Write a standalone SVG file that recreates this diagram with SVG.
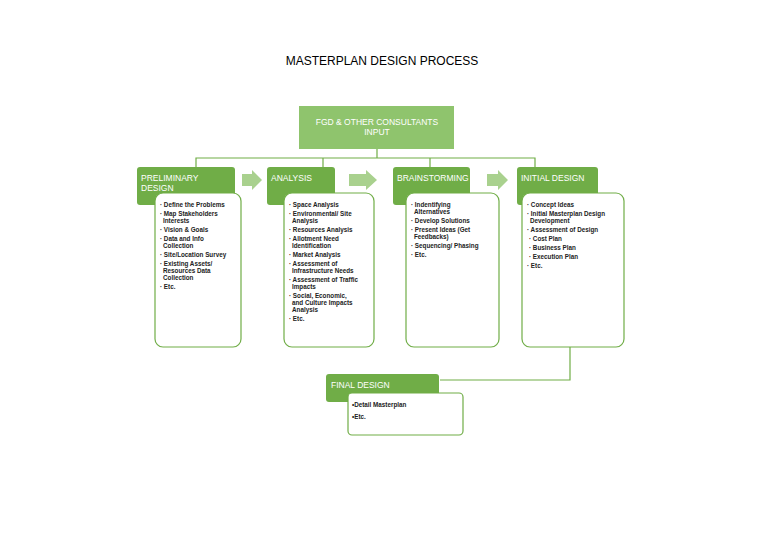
<svg xmlns="http://www.w3.org/2000/svg" width="768" height="544" viewBox="0 0 768 544">
<style>
.hd{fill:#70ad47}
.bx{fill:#fff;stroke:#70ad47;stroke-width:1.2}
.ht{font-family:"Liberation Sans",Arial,sans-serif;font-size:8.5px;fill:#fff}
.it{font-family:"Liberation Sans",Arial,sans-serif;font-size:6.3px;font-weight:bold;fill:#222}
.ar{fill:#a9d18e}
.cn{fill:none;stroke:#70ad47;stroke-width:1.2}
</style>
<rect width="768" height="544" fill="#fff"/>
<text x="382" y="65" text-anchor="middle" font-family="Liberation Sans,Arial,sans-serif" font-size="12" fill="#000">MASTERPLAN  DESIGN  PROCESS</text>
<g id="connectors">
<path class="cn" d="M377 149V158M196 167V158H535V167M323 158V167M430 158V167"/>
<path class="cn" d="M570 347V380H440"/>
<polygon class="ar" points="242,174 252,174 252,170 262,180 252,190 252,186 242,186"/>
<polygon class="ar" points="349,174 366,174 366,170 377,180 366,190 366,186 349,186"/>
<polygon class="ar" points="487,174 498,174 498,170 508,180 498,190 498,186 487,186"/>
</g>
<g id="fgd">
<rect x="299" y="106" width="155" height="43" fill="#8fc46d"/>
<text class="ht" x="377" y="125" text-anchor="middle">FGD &amp; OTHER CONSULTANTS</text>
<text class="ht" x="377" y="135" text-anchor="middle">INPUT</text>
</g>
<g id="preliminary">
<rect class="hd" x="137" y="167" width="98" height="38" rx="3"/>
<text class="ht" x="141" y="181">PRELIMINARY</text><text class="ht" x="141" y="191">DESIGN</text>
<rect class="bx" x="155" y="193" width="86" height="154" rx="8"/>
<text class="it" x="160" y="207">· Define the Problems</text>
<text class="it" x="160" y="216">· Map Stakeholders</text>
<text class="it" x="163" y="223">Interests</text>
<text class="it" x="160" y="232">· Vision &amp; Goals</text>
<text class="it" x="160" y="241">· Data and Info</text>
<text class="it" x="163" y="248">Collection</text>
<text class="it" x="160" y="257">· Site/Location Survey</text>
<text class="it" x="160" y="266">· Existing Assets/</text>
<text class="it" x="163" y="273">Resources Data</text>
<text class="it" x="163" y="280">Collection</text>
<text class="it" x="160" y="289">· Etc.</text>
</g>
<g id="analysis">
<rect class="hd" x="267" y="167" width="68" height="38" rx="3"/>
<text class="ht" x="271" y="181">ANALYSIS</text>
<rect class="bx" x="284" y="193" width="90" height="154" rx="8"/>
<text class="it" x="289" y="207">· Space Analysis</text>
<text class="it" x="289" y="216">· Environmental/ Site</text>
<text class="it" x="292" y="223">Analysis</text>
<text class="it" x="289" y="232">· Resources Analysis</text>
<text class="it" x="289" y="241">· Allotment Need</text>
<text class="it" x="292" y="248">Identification</text>
<text class="it" x="289" y="257">· Market Analysis</text>
<text class="it" x="289" y="266">· Assessment of</text>
<text class="it" x="292" y="273">Infrastructure Needs</text>
<text class="it" x="289" y="282">· Assessment of Traffic</text>
<text class="it" x="292" y="289">Impacts</text>
<text class="it" x="289" y="298">· Social, Economic,</text>
<text class="it" x="292" y="305">and Culture Impacts</text>
<text class="it" x="292" y="312">Analysis</text>
<text class="it" x="289" y="321">· Etc.</text>
</g>
<g id="brainstorming">
<rect class="hd" x="393" y="167" width="77" height="38" rx="3"/>
<text class="ht" x="397" y="181">BRAINSTORMING</text>
<rect class="bx" x="406" y="193" width="93" height="154" rx="8"/>
<text class="it" x="411" y="207">· Indentifying</text>
<text class="it" x="414" y="214">Alternatives</text>
<text class="it" x="411" y="223">· Develop Solutions</text>
<text class="it" x="411" y="232">· Present Ideas  (Get</text>
<text class="it" x="414" y="239">Feedbacks)</text>
<text class="it" x="411" y="248">· Sequencing/ Phasing</text>
<text class="it" x="411" y="257">· Etc.</text>
</g>
<g id="initial">
<rect class="hd" x="517" y="167" width="81" height="38" rx="3"/>
<text class="ht" x="521" y="181">INITIAL DESIGN</text>
<rect class="bx" x="522" y="193" width="102" height="154" rx="8"/>
<text class="it" x="527" y="207">· Concept Ideas</text>
<text class="it" x="527" y="216">· Initial Masterplan Design</text>
<text class="it" x="530" y="223">Development</text>
<text class="it" x="527" y="232">· Assessment of Design</text>
<text class="it" x="529" y="241">· Cost Plan</text>
<text class="it" x="529" y="250">· Business Plan</text>
<text class="it" x="529" y="259">· Execution Plan</text>
<text class="it" x="527" y="268">· Etc.</text>
</g>
<g id="final">
<rect class="hd" x="326" y="374" width="113" height="28" rx="3"/>
<text class="ht" x="331" y="388">FINAL DESIGN</text>
<rect class="bx" x="348" y="393" width="115" height="42" rx="4"/>
<text class="it" x="352" y="407" font-size="7">•Detail Masterplan</text>
<text class="it" x="352" y="419" font-size="7">•Etc.</text>
</g>
</svg>
